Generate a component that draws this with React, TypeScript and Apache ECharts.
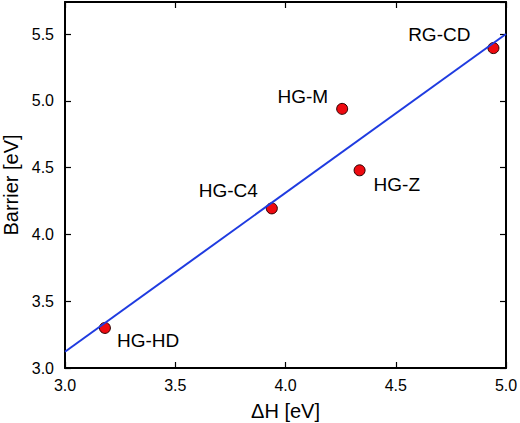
import React, { useEffect, useRef } from "react";
import * as echarts from "echarts";

const names = ["HG-HD", "HG-C4", "HG-M", "HG-Z", "RG-CD"];
const deltaH = [3.181, 3.938, 4.257, 4.336, 4.943];
const barrier = [3.30, 4.195, 4.94, 4.48, 5.395];
const fitX = [3.0, 5.0];
const fitY = [3.122, 5.5];
const xTicks = [3.0, 3.5, 4.0, 4.5, 5.0];
const yTicks = [3.0, 3.5, 4.0, 4.5, 5.0, 5.5];

// label placement per point: [dx, dy, align]
const labelPlace: [number, number, string][] = [
  [12, 13, "left"],
  [-14, -18, "right"],
  [-14, -12, "right"],
  [14, 14, "left"],
  [-23, -14, "right"],
];

const FONT = "Liberation Sans, Arial, Helvetica, sans-serif";

export default function App() {
  const ref = useRef<HTMLDivElement>(null);
  useEffect(() => {
    document.body.style.margin = "0";
    const chart = echarts.init(ref.current!, null, { renderer: "svg" });
    const fmt = (v: number, ticks: number[]) =>
      ticks.some((t) => Math.abs(t - v) < 1e-6) ? v.toFixed(1) : "";
    const axisCommon = {
      axisLine: { show: true, onZero: false, lineStyle: { color: "#000", width: 2 } },
      axisTick: { show: true, inside: true, length: 6, lineStyle: { color: "#000", width: 1.2 } },
      splitLine: { show: false },
    };
    chart.setOption({
      animation: false,
      backgroundColor: "#fff",
      grid: {
        left: 65,
        right: 14,
        top: 2,
        bottom: 55,
        containLabel: false,
        outerBoundsMode: "none",
      },
      xAxis: [
        {
          type: "value",
          min: 3.0,
          max: 5.0,
          interval: 0.5,
          position: "bottom",
          name: "ΔH [eV]",
          nameLocation: "middle",
          nameGap: 33,
          nameTextStyle: { fontSize: 20, color: "#000", fontFamily: FONT },
          axisLabel: {
            fontSize: 16,
            color: "#000",
            fontFamily: FONT,
            margin: 9,
            formatter: (v: number) => fmt(v, xTicks),
          },
          ...axisCommon,
        },
        {
          type: "value",
          min: 3.0,
          max: 5.0,
          interval: 0.5,
          position: "top",
          axisLabel: { show: false },
          ...axisCommon,
        },
      ],
      yAxis: [
        {
          type: "value",
          min: 3.0,
          max: 5.74,
          interval: 0.5,
          position: "left",
          name: "Barrier [eV]",
          nameLocation: "middle",
          nameGap: 43,
          nameTextStyle: { fontSize: 20, color: "#000", fontFamily: FONT },
          axisLabel: {
            fontSize: 16,
            color: "#000",
            fontFamily: FONT,
            margin: 11,
            showMaxLabel: false,
            formatter: (v: number) => fmt(v, yTicks),
          },
          ...axisCommon,
        },
        {
          type: "value",
          min: 3.0,
          max: 5.74,
          interval: 0.5,
          position: "right",
          axisLabel: { show: false },
          ...axisCommon,
        },
      ],
      series: [
        {
          type: "scatter",
          xAxisIndex: 0,
          yAxisIndex: 0,
          symbol: "circle",
          symbolSize: 11,
          z: 2,
          itemStyle: { color: "#ee0a10", borderColor: "#2a0000", borderWidth: 1, opacity: 1 },
          data: names.map((n, i) => ({
            name: n,
            value: [deltaH[i], barrier[i]],
            label: {
              show: true,
              position: "inside",
              formatter: n,
              align: labelPlace[i][2],
              verticalAlign: "middle",
              offset: [labelPlace[i][0], labelPlace[i][1]],
              fontSize: 19,
              color: "#000",
              opacity: 1,
              textBorderWidth: 0,
              fontFamily: FONT,
            },
          })),
        },
        {
          type: "line",
          xAxisIndex: 0,
          yAxisIndex: 0,
          z: 3,
          symbol: "none",
          lineStyle: { color: "#1f3be0", width: 2 },
          data: fitX.map((x, i) => [x, fitY[i]]),
        },
      ],
    });
    return () => chart.dispose();
  }, []);
  return <div ref={ref} style={{ width: 520, height: 423 }} />;
}
